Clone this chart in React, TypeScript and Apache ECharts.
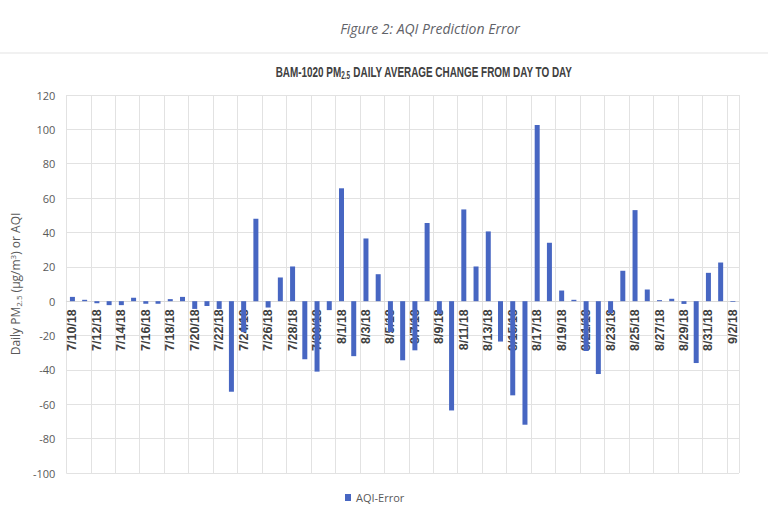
import { useEffect, useRef } from "react";
import * as echarts from "echarts";

// dates shown on the category axis (one per day)
const dates = [
  "7/10/18", "7/11/18", "7/12/18", "7/13/18", "7/14/18", "7/15/18", "7/16/18", "7/17/18",
  "7/18/18", "7/19/18", "7/20/18", "7/21/18", "7/22/18", "7/23/18", "7/24/18", "7/25/18",
  "7/26/18", "7/27/18", "7/28/18", "7/29/18", "7/30/18", "7/31/18",
  "8/1/18", "8/2/18", "8/3/18", "8/4/18", "8/5/18", "8/6/18", "8/7/18", "8/8/18",
  "8/9/18", "8/10/18", "8/11/18", "8/12/18", "8/13/18", "8/14/18", "8/15/18", "8/16/18",
  "8/17/18", "8/18/18", "8/19/18", "8/20/18", "8/21/18", "8/22/18", "8/23/18", "8/24/18",
  "8/25/18", "8/26/18", "8/27/18", "8/28/18", "8/29/18", "8/30/18", "8/31/18",
  "9/1/18", "9/2/18",
];

// daily change (AQI-Error)
const aqiError = [
  2.5, 0.8, -1.2, -2.3, -2.3, 2, -1.5, -1.5,
  1.2, 2.5, -4.5, -2.8, -4.5, -52.7, -18, 48,
  -3.7, 13.8, 20.2, -33.8, -41, -5.2,
  65.7, -32, 36.5, 15.7, -18, -34.4, -28.6, 45.5,
  -7.4, -63.6, 53.4, 20.2, 40.6, -23.5, -54.8, -71.9,
  102.6, 34, 6.2, 0.8, -29, -42.4, -7, 17.7,
  53, 6.8, 0.6, 1.4, -1.6, -36, 16.5,
  22.5, -0.4,
];

const yMin = -100;
const yMax = 120;
const yStep = 20;

const GRID_TOP = 95;
const GRID_BOTTOM = 38;
const CHART_H = 511;

export default function App() {
  const chartRef = useRef<HTMLDivElement>(null);

  useEffect(() => {
    if (!chartRef.current) return;
    const chart = echarts.init(chartRef.current, undefined, { renderer: "svg" });

    // move the category axis up to the value 0 line
    const plotH = CHART_H - GRID_TOP - GRID_BOTTOM;
    const zeroOffset = -(plotH * (0 - yMin)) / (yMax - yMin);

    const option: echarts.EChartsOption = {
      animation: false,
      graphic: [
        {
          type: "text",
          x: 430,
          y: 28,
          style: {
            text: "Figure 2: AQI Prediction Error",
            textAlign: "center",
            textVerticalAlign: "middle",
            fontFamily: "'Open Sans', sans-serif",
            fontStyle: "italic",
            fontSize: 14,
            fill: "#5f6268",
          },
        },
        {
          type: "line",
          shape: { x1: 0, y1: 53, x2: 768, y2: 53 },
          style: { stroke: "#e3e3e3", lineWidth: 1 },
        },
        {
          type: "text",
          x: 424,
          y: 72,
          scaleX: 0.64,
          style: {
            text: "BAM-1020 PM{sub|2.5} DAILY AVERAGE CHANGE FROM DAY TO DAY",
            textAlign: "center",
            textVerticalAlign: "middle",
            fontFamily: "'Liberation Sans', Arial, sans-serif",
            fontWeight: "bold",
            fontSize: 15.5,
            fill: "#404040",
            rich: {
              sub: {
                fontFamily: "'Liberation Sans', Arial, sans-serif",
                fontWeight: "bold",
                fontSize: 10,
                fill: "#404040",
                padding: [7, 0, 0, 0],
              },
            },
          },
        },
      ],
      grid: { left: 63, right: 29, top: GRID_TOP, bottom: GRID_BOTTOM },
      legend: {
        data: ["AQI-Error"],
        left: 340,
        top: 487,
        icon: "rect",
        itemWidth: 6,
        itemHeight: 7,
        itemGap: 5,
        textStyle: { fontFamily: "'Open Sans', sans-serif", fontSize: 11, color: "#595959" },
      },
      xAxis: {
        type: "category",
        data: dates,
        boundaryGap: true,
        position: "bottom",
        offset: zeroOffset,
        axisLine: { onZero: false, lineStyle: { color: "#d9d9d9" } },
        axisTick: { show: false },
        axisLabel: {
          interval: 1,
          rotate: 90,
          margin: 8,
          fontFamily: "'Liberation Sans', Arial, sans-serif",
          fontWeight: "bold",
          fontSize: 12.5,
          color: "#404040",
        },
        splitLine: { show: true, interval: 1, lineStyle: { color: "#e2e2e2" } },
      },
      yAxis: {
        type: "value",
        min: yMin,
        max: yMax,
        interval: yStep,
        name: "Daily PM{sub|2.5} (µg/m{sup|3}) or AQI",
        nameLocation: "middle",
        nameGap: 43,
        nameTextStyle: {
          fontFamily: "'Open Sans', sans-serif",
          fontSize: 12,
          color: "#595959",
          rich: {
            sub: { fontFamily: "'Open Sans', sans-serif", fontSize: 8, color: "#595959", padding: [6, 0, 0, 0] },
            sup: { fontFamily: "'Open Sans', sans-serif", fontSize: 8, color: "#595959", padding: [0, 0, 6, 0] },
          },
        },
        axisLine: { show: false },
        axisTick: { show: false },
        axisLabel: {
          margin: 11,
          fontFamily: "'Open Sans', sans-serif",
          fontSize: 11,
          color: "#595959",
        },
        splitLine: { lineStyle: { color: "#e2e2e2" } },
      },
      series: [
        {
          name: "AQI-Error",
          type: "bar",
          data: aqiError,
          barWidth: 5,
          itemStyle: { color: "#4766c2" },
        },
      ],
    };
    chart.setOption(option);

    return () => {
      chart.dispose();
    };
  }, []);

  return (
    <div
      ref={chartRef}
      style={{ position: "fixed", left: 0, top: 0, width: 768, height: 511, background: "#fff" }}
    />
  );
}
